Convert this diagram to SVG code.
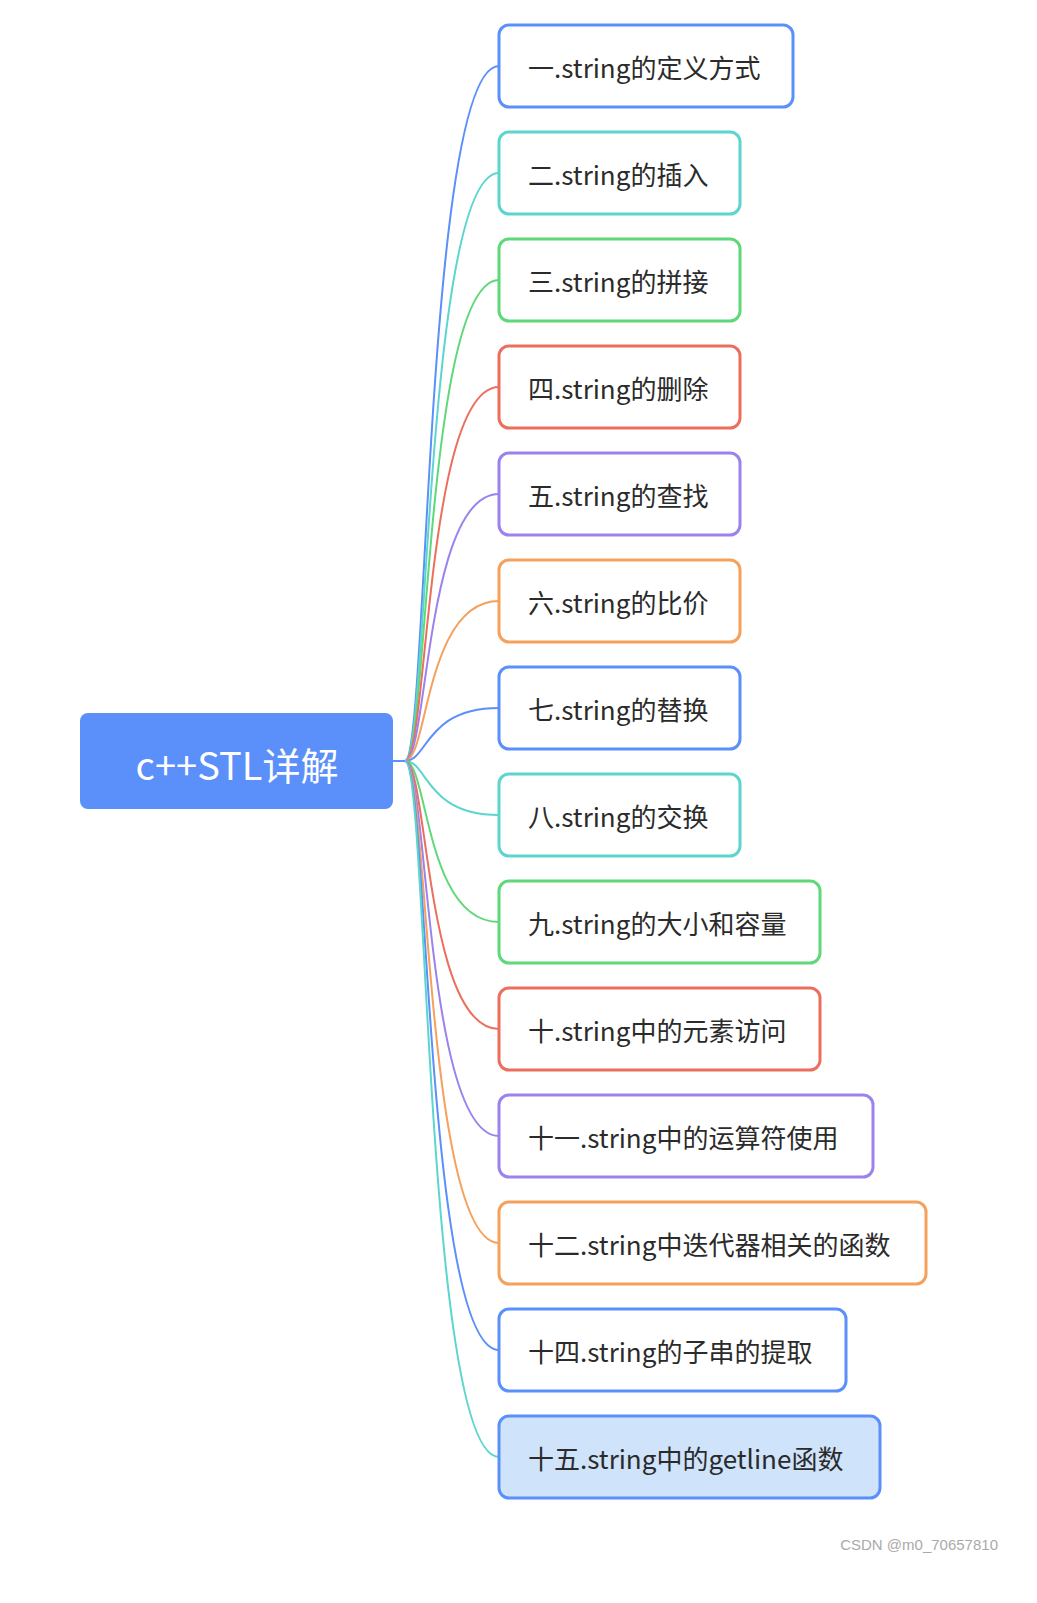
<svg xmlns="http://www.w3.org/2000/svg" width="1037" height="1603" viewBox="0 0 1037 1603">
<style>
.n rect{fill:#fff;stroke-width:3}
.n text{font-family:"Noto Sans CJK SC","Noto Sans",sans-serif;font-size:26px;fill:#2b2b2b;dominant-baseline:central}
#edges path{fill:none;stroke-width:2}
.b{stroke:#5b8ff9}.t{stroke:#5dd5cf}.g{stroke:#5fd87a}.r{stroke:#ec6f5e}.p{stroke:#9b82ef}.o{stroke:#f5a05b}
</style>
<rect width="1037" height="1603" fill="#fff"/>
<g id="edges">
<path class="b" d="M393 761 H405 C428 761 425 66 499 66"/>
<path class="t" d="M405 761 C428 761 425 173 499 173"/>
<path class="g" d="M405 761 C428 761 425 280 499 280"/>
<path class="r" d="M405 761 C428 761 425 387 499 387"/>
<path class="p" d="M405 761 C428 761 425 494 499 494"/>
<path class="o" d="M405 761 C428 761 425 601 499 601"/>
<path class="b" d="M405 761 C428 761 425 708 499 708"/>
<path class="t" d="M405 761 C428 761 425 815 499 815"/>
<path class="g" d="M405 761 C428 761 425 922 499 922"/>
<path class="r" d="M405 761 C428 761 425 1029 499 1029"/>
<path class="p" d="M405 761 C428 761 425 1136 499 1136"/>
<path class="o" d="M405 761 C428 761 425 1243 499 1243"/>
<path class="b" d="M405 761 C428 761 425 1350 499 1350"/>
<path class="t" d="M405 761 C428 761 425 1457 499 1457"/>
</g>
<g id="root"><rect x="80" y="713" width="313" height="96" rx="8" fill="#5b8ff9"/><text x="237" y="763" text-anchor="middle" dominant-baseline="central" font-family="'Noto Sans CJK SC','Noto Sans',sans-serif" font-size="38" fill="#fff">c++STL详解</text></g>
<g id="n1" class="n"><rect class="b" x="499" y="25" width="294" height="82" rx="10"/><text x="528" y="66">一.string的定义方式</text></g>
<g id="n2" class="n"><rect class="t" x="499" y="132" width="241" height="82" rx="10"/><text x="528" y="173">二.string的插入</text></g>
<g id="n3" class="n"><rect class="g" x="499" y="239" width="241" height="82" rx="10"/><text x="528" y="280">三.string的拼接</text></g>
<g id="n4" class="n"><rect class="r" x="499" y="346" width="241" height="82" rx="10"/><text x="528" y="387">四.string的删除</text></g>
<g id="n5" class="n"><rect class="p" x="499" y="453" width="241" height="82" rx="10"/><text x="528" y="494">五.string的查找</text></g>
<g id="n6" class="n"><rect class="o" x="499" y="560" width="241" height="82" rx="10"/><text x="528" y="601">六.string的比价</text></g>
<g id="n7" class="n"><rect class="b" x="499" y="667" width="241" height="82" rx="10"/><text x="528" y="708">七.string的替换</text></g>
<g id="n8" class="n"><rect class="t" x="499" y="774" width="241" height="82" rx="10"/><text x="528" y="815">八.string的交换</text></g>
<g id="n9" class="n"><rect class="g" x="499" y="881" width="321" height="82" rx="10"/><text x="528" y="922">九.string的大小和容量</text></g>
<g id="n10" class="n"><rect class="r" x="499" y="988" width="321" height="82" rx="10"/><text x="528" y="1029">十.string中的元素访问</text></g>
<g id="n11" class="n"><rect class="p" x="499" y="1095" width="374" height="82" rx="10"/><text x="528" y="1136">十一.string中的运算符使用</text></g>
<g id="n12" class="n"><rect class="o" x="499" y="1202" width="427" height="82" rx="10"/><text x="528" y="1243">十二.string中迭代器相关的函数</text></g>
<g id="n14" class="n"><rect class="b" x="499" y="1309" width="347" height="82" rx="10"/><text x="528" y="1350">十四.string的子串的提取</text></g>
<g id="n15" class="n"><rect class="b" x="499" y="1416" width="381" height="82" rx="10" style="fill:#cfe3fb"/><text x="528" y="1457">十五.string中的getline函数</text></g>
<text x="998" y="1550" text-anchor="end" font-family="'Liberation Sans',sans-serif" font-size="15" fill="#aaa">CSDN @m0_70657810</text>
</svg>
